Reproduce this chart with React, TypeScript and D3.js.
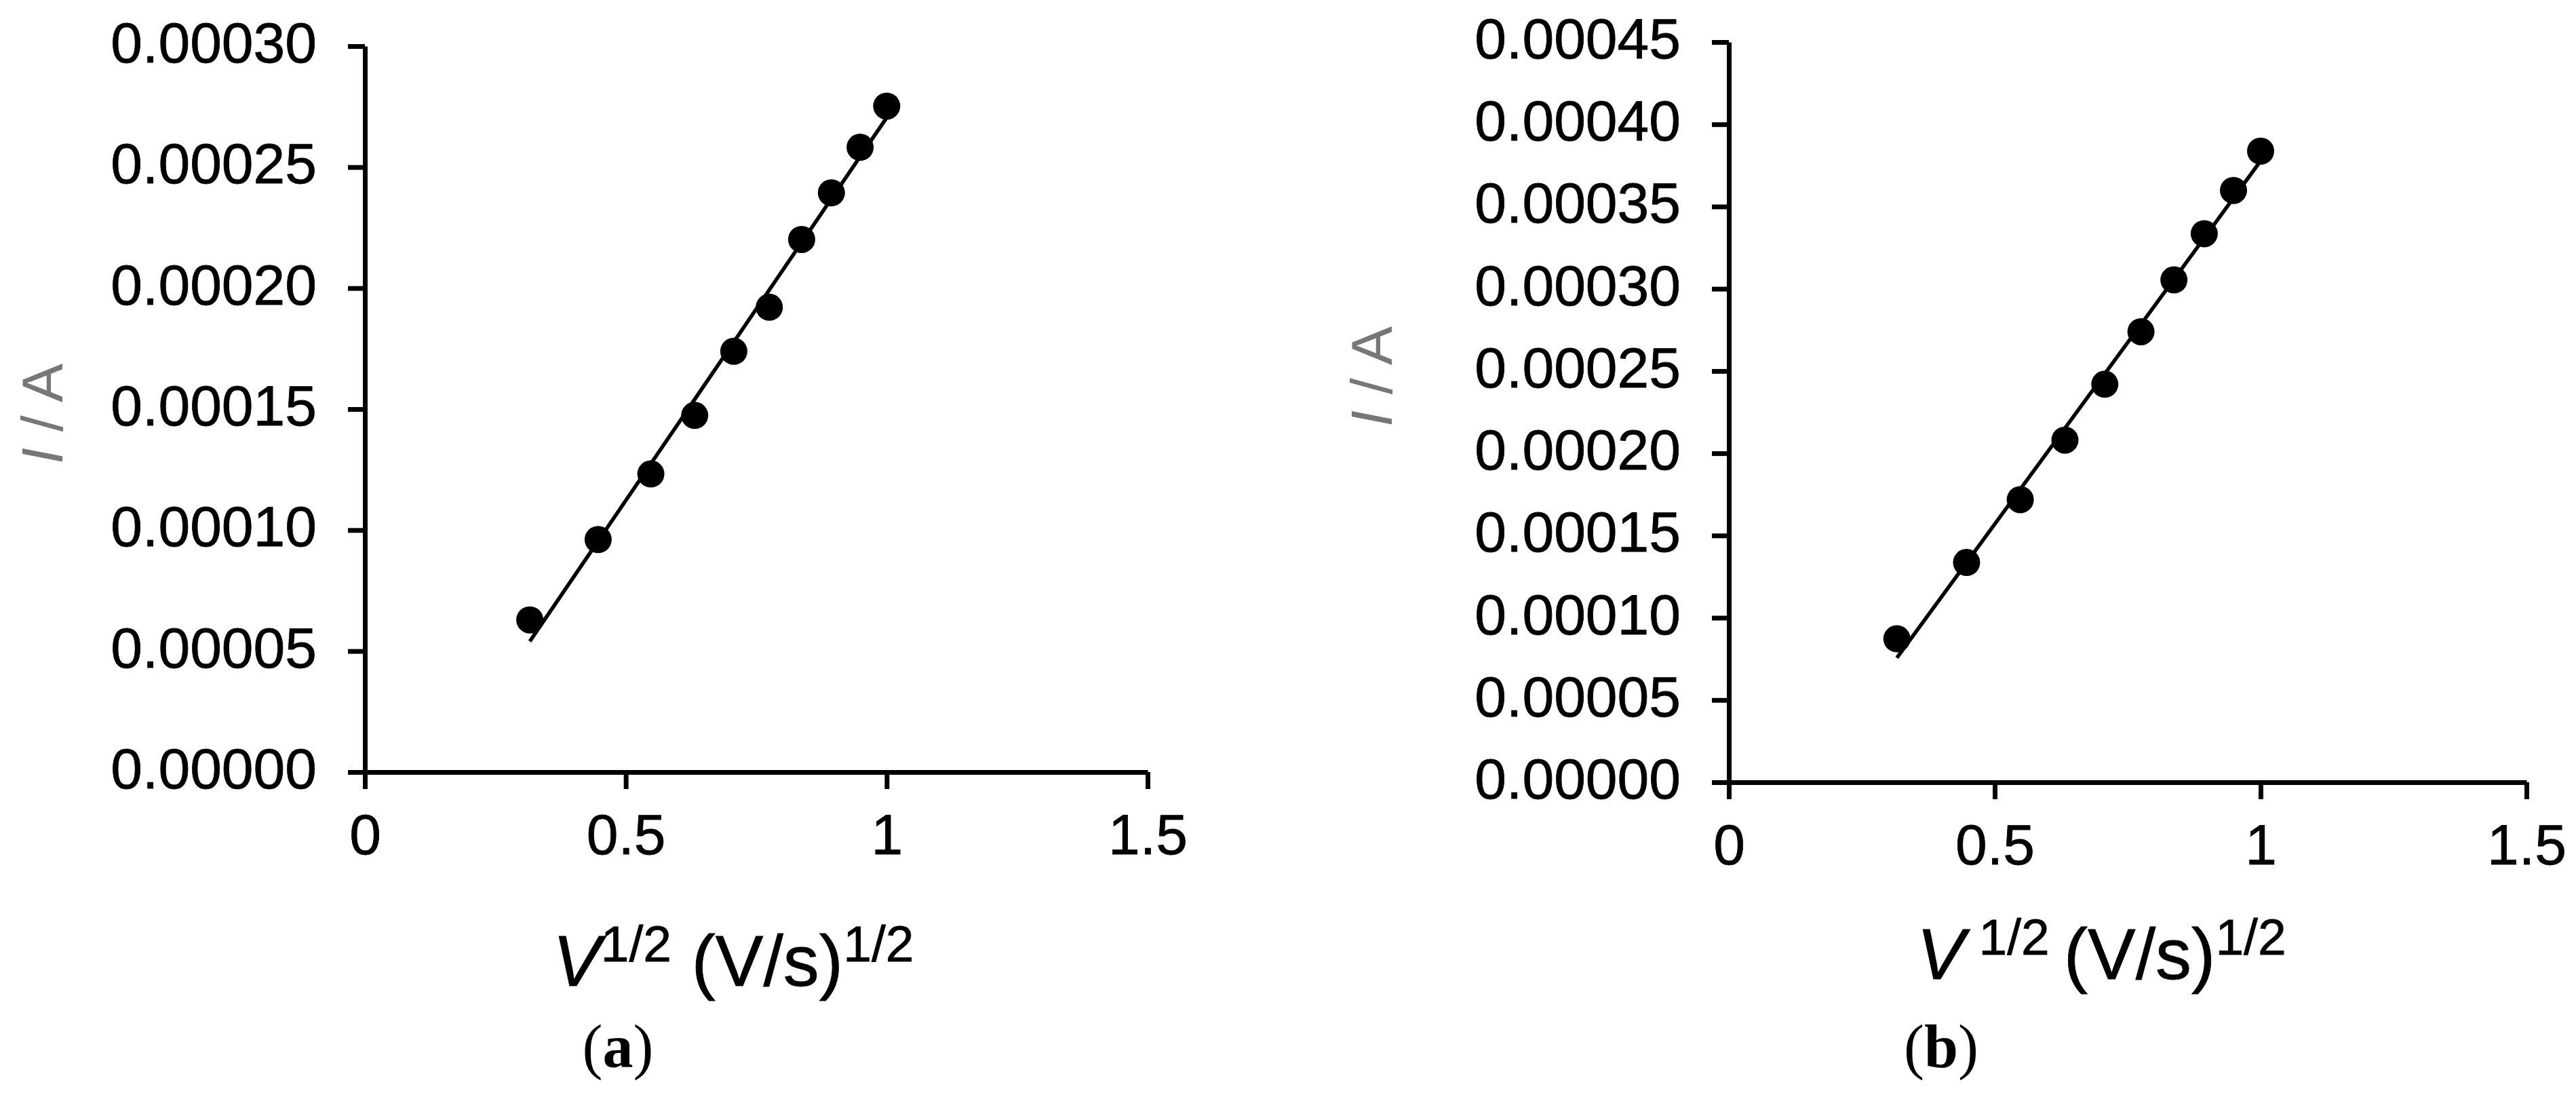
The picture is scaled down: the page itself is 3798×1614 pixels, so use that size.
import { useEffect, useRef } from 'react';
import * as d3 from 'd3';

// scan rate square roots, (V/s)^1/2
const sqrtRates = [0.316, 0.447, 0.548, 0.632, 0.707, 0.775, 0.837, 0.894, 0.949, 1.0];

// peak currents, A
const currentA = [0.0000629, 0.0000961, 0.0001232, 0.0001474, 0.0001739, 0.0001921, 0.0002201, 0.0002394, 0.0002582, 0.0002752];
const currentB = [0.0000872, 0.0001336, 0.0001718, 0.000208, 0.000242, 0.0002739, 0.0003054, 0.0003335, 0.0003598, 0.0003837];

const xTicks = [0, 0.5, 1, 1.5];
const yTicksA = [0, 0.00005, 0.0001, 0.00015, 0.0002, 0.00025, 0.0003];
const yTicksB = [0, 0.00005, 0.0001, 0.00015, 0.0002, 0.00025, 0.0003, 0.00035, 0.0004, 0.00045];

const WIDTH = 3798;
const HEIGHT = 1614;
const SANS = '"Liberation Sans", Arial, sans-serif';
const SERIF = '"Liberation Serif", "Times New Roman", serif';

interface PanelSpec {
  ys: number[];
  yTicks: number[];
  left: number;
  right: number;
  top: number;
  bottom: number;
  yTitleX: number;
  yTitleY: number;
  xTitleX: number;
  xTitleY: number;
  xTitleParts: [string, string, string, string];
  tagX: number;
  tag: string;
}

const panels: PanelSpec[] = [
  {
    ys: currentA,
    yTicks: yTicksA,
    left: 538,
    right: 1692,
    top: 68,
    bottom: 1138,
    yTitleX: 92,
    yTitleY: 610,
    xTitleX: 815,
    xTitleY: 1453,
    xTitleParts: ['V', '1/2', ' (V/s)', '1/2'],
    tagX: 911,
    tag: 'a',
  },
  {
    ys: currentB,
    yTicks: yTicksB,
    left: 2549,
    right: 3725,
    top: 62,
    bottom: 1153,
    yTitleX: 2052,
    yTitleY: 555,
    xTitleX: 2826,
    xTitleY: 1443,
    xTitleParts: ['V', ' 1/2 ', '(V/s)', '1/2'],
    tagX: 2862,
    tag: 'b',
  },
];

function drawPanel(root: d3.Selection<SVGGElement, unknown, null, undefined>, p: PanelSpec) {
  const x = d3.scaleLinear().domain([0, 1.5]).range([p.left, p.right]);
  const y = d3
    .scaleLinear()
    .domain([0, p.yTicks[p.yTicks.length - 1]])
    .range([p.bottom, p.top]);

  const g = root.append('g');

  // axes
  const yAxis = g
    .append('g')
    .attr('transform', `translate(${p.left},0)`)
    .call(
      d3
        .axisLeft(y)
        .tickValues(p.yTicks)
        .tickFormat(d3.format('.5f'))
        .tickSize(25)
        .tickSizeOuter(0)
        .tickPadding(46),
    );

  const xAxis = g
    .append('g')
    .attr('transform', `translate(0,${p.bottom})`)
    .call(
      d3
        .axisBottom(x)
        .tickValues(xTicks)
        .tickFormat(d3.format('~g'))
        .tickSize(25)
        .tickSizeOuter(0)
        .tickPadding(36),
    );

  [yAxis, xAxis].forEach((ax) => {
    ax.selectAll('path, line').attr('stroke', '#000').attr('stroke-width', 7);
    ax.selectAll('text')
      .attr('fill', '#000')
      .attr('font-family', SANS)
      .attr('font-size', 84)
      .attr('stroke', '#000')
      .attr('stroke-width', 0.8);
  });
  yAxis.selectAll('text').attr('dy', '0.28em');

  // least-squares trend line
  const pts = sqrtRates.map((v, i) => [v, p.ys[i]] as [number, number]);
  const mx = d3.mean(sqrtRates) as number;
  const my = d3.mean(p.ys) as number;
  const slope =
    d3.sum(pts, (d) => (d[0] - mx) * (d[1] - my)) / d3.sum(pts, (d) => (d[0] - mx) ** 2);
  const icpt = my - slope * mx;
  const xs = d3.extent(sqrtRates) as [number, number];

  g.append('path')
    .attr(
      'd',
      d3
        .line<number>()
        .x((d) => x(d))
        .y((d) => y(icpt + slope * d))(xs),
    )
    .attr('stroke', '#000')
    .attr('stroke-width', 5.5)
    .attr('fill', 'none');

  g.selectAll('circle.pt')
    .data(pts)
    .join('circle')
    .attr('class', 'pt')
    .attr('cx', (d) => x(d[0]))
    .attr('cy', (d) => y(d[1]))
    .attr('r', 20)
    .attr('fill', '#000');

  // y title
  const yt = g
    .append('text')
    .attr('transform', `translate(${p.yTitleX},${p.yTitleY}) rotate(-90)`)
    .attr('text-anchor', 'middle')
    .attr('font-family', SANS)
    .attr('font-size', 86)
    .attr('fill', '#777');
  yt.append('tspan').attr('font-style', 'italic').text('I');
  yt.append('tspan').text(' / A');

  // x title with superscripts
  const [v, s1, unit, s2] = p.xTitleParts;
  const xt = g
    .append('text')
    .attr('x', p.xTitleX)
    .attr('y', p.xTitleY)
    .attr('font-family', SANS)
    .attr('font-size', 106)
    .attr('fill', '#000')
    .attr('stroke', '#000')
    .attr('stroke-width', 0.8)
    .style('white-space', 'pre');
  xt.append('tspan').attr('font-style', 'italic').text(v);
  xt.append('tspan').attr('font-size', 75).attr('dy', -36).text(s1);
  xt.append('tspan').attr('dy', 36).text(unit);
  xt.append('tspan').attr('font-size', 75).attr('dy', -36).text(s2);

  // panel tag
  const tag = g
    .append('text')
    .attr('x', p.tagX)
    .attr('y', 1573)
    .attr('text-anchor', 'middle')
    .attr('font-family', SERIF)
    .attr('font-size', 90)
    .attr('fill', '#000');
  tag.append('tspan').text('(');
  tag.append('tspan').attr('font-weight', 'bold').text(p.tag);
  tag.append('tspan').text(')');
}

export default function App() {
  const gRef = useRef<SVGGElement>(null);

  useEffect(() => {
    if (!gRef.current) return;
    const root = d3.select(gRef.current);
    root.selectAll('*').remove();
    panels.forEach((p) => drawPanel(root, p));
  }, []);

  return (
    <svg
      width={WIDTH}
      height={HEIGHT}
      style={{ position: 'absolute', left: 0, top: 0, background: '#fff' }}
    >
      <rect width={WIDTH} height={HEIGHT} fill="#fff" />
      <g ref={gRef} />
    </svg>
  );
}
